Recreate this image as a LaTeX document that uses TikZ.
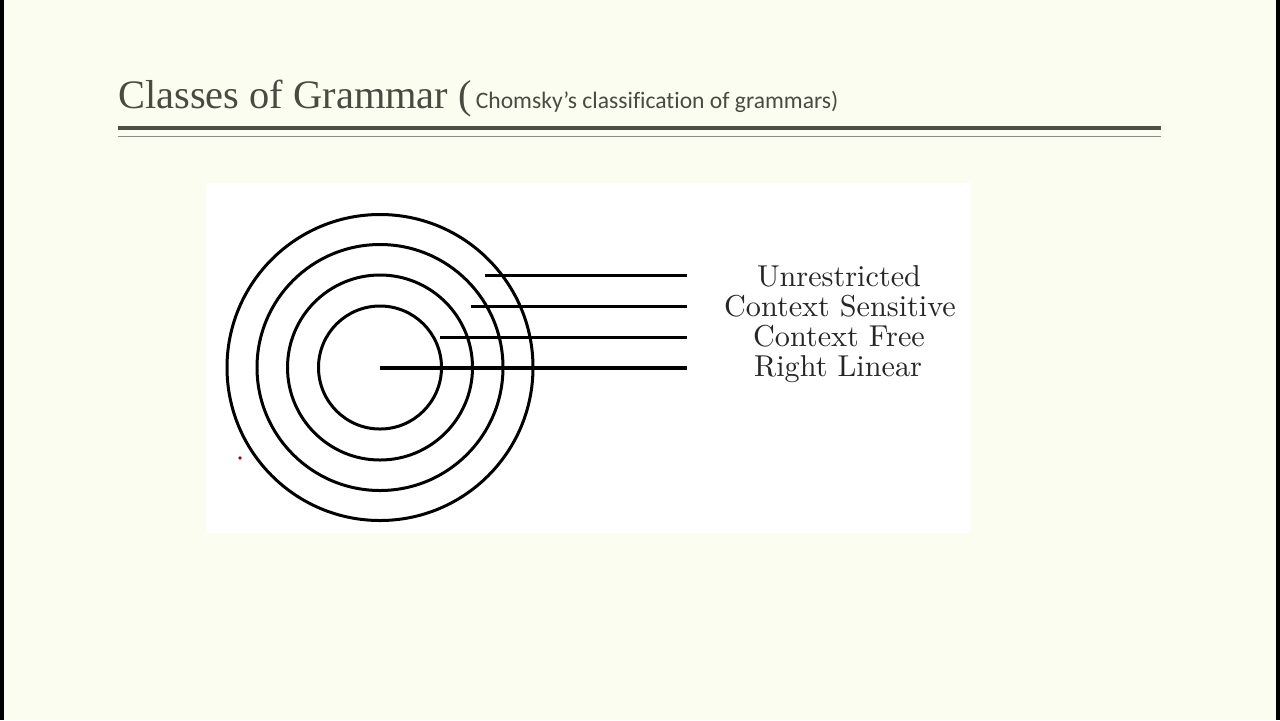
\documentclass[tikz,border=0pt]{standalone}
\usepackage{fontspec}
\usepackage{tikz}
\usetikzlibrary{positioning}
\newfontfamily\titlefont{Liberation Serif}
\newfontfamily\subfont{Carlito}[Ligatures={NoCommon}]
\newfontfamily\tagfont{lmroman10-regular}[Extension=.otf]
\definecolor{slidebg}{HTML}{FBFDF0}
\definecolor{titlegray}{HTML}{4A4A42}
\definecolor{rulegray}{HTML}{4F4F47}
\definecolor{rulelight}{HTML}{8C8C84}

\begin{document}
\begin{tikzpicture}[x=0.5pt,y=-0.5pt,
  ring/.style={draw, circle, line width=1.5pt, inner sep=0pt, outer sep=0pt},
  lead/.style={line width=1.4pt},
  tag/.style={font=\tagfont\fontsize{15.1}{18}\selectfont, text=black!85, anchor=base, inner sep=0pt}]
\useasboundingbox (0,0) rectangle (1280,720);
\fill[slidebg] (0,0) rectangle (1280,720);
\fill[black] (0,0) rectangle (4,720);
\fill[black] (1276,0) rectangle (1280,720);

% title
\node[anchor=base west, inner sep=0pt, text=titlegray] (title) at (118,108)
  {\titlefont\fontsize{20.2}{24}\selectfont Classes of Grammar (\hspace{2pt}\subfont\fontsize{11.8}{14}\selectfont Chomsky’s classification of grammars)};
\draw[rulegray, line width=2pt] (118,128) -- (1161,128);
\draw[rulelight, line width=0.9pt] (118,136.5) -- (1161,136.5);

% picture
\fill[white] (206,183) rectangle (971,533);
\node[ring, minimum size=153pt] (unres) at (380,367.5) {};
\node[ring, minimum size=123pt] (csens) at (380,367.5) {};
\node[ring, minimum size=92.5pt] (cfree) at (380,367.5) {};
\node[ring, minimum size=61.5pt] (rlin) at (380,367.5) {};
\fill[red!70!black] (240,458) circle[radius=0.9pt];

\node[tag] (lunres) at (839,286) {Unrestricted};
\node[tag] (lcsens) at (840,316.5) {Context Sensitive};
\node[tag] (lcfree) at (839,346.5) {Context Free};
\node[tag] (lrlin) at (838,376) {Right Linear};

\coordinate (su) at (485,275.5);
\coordinate (ss) at (471,306.5);
\coordinate (sf) at (440,337.5);
\coordinate (sr) at (380,368);
\coordinate (tip) at (687,0);
\draw[lead] (su) -- (su -| tip);
\draw[lead] (ss) -- (ss -| tip);
\draw[lead] (sf) -- (sf -| tip);
\draw[lead, line width=2pt] (sr) -- (sr -| tip);

\end{tikzpicture}
\end{document}
